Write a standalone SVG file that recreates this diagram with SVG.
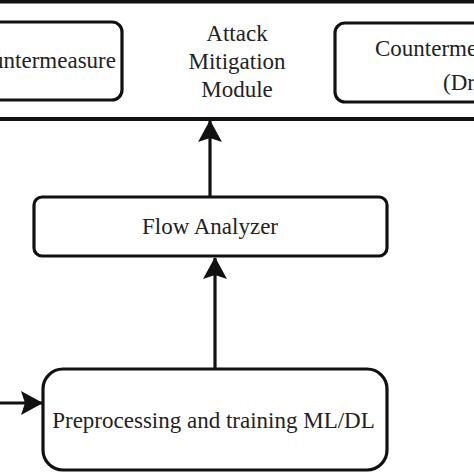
<svg xmlns="http://www.w3.org/2000/svg" width="474" height="474" viewBox="0 0 474 474">
<style>
.box{fill:#fff;stroke:#111;stroke-width:3.2}
.t{font-family:"Liberation Serif","Times New Roman",serif;font-size:23px;fill:#222}
.c{text-anchor:middle}
.conn{stroke:#111;stroke-width:3.2;fill:none}
</style>
<defs>
<marker id="ah" viewBox="0 0 22 24" refX="21" refY="12" markerWidth="22" markerHeight="24" markerUnits="userSpaceOnUse" orient="auto">
<path d="M0,0 L22,12 L0,24 L4,12 Z" fill="#111"/>
</marker>
</defs>
<rect width="474" height="474" fill="#fff"/>
<g id="attack-mitigation-module">
<rect class="box" x="-10" y="1.5" width="494" height="117.5" style="stroke-width:4"/>
<text class="t c" x="237" y="41">Attack</text>
<text class="t c" x="237" y="69">Mitigation</text>
<text class="t c" x="237" y="97">Module</text>
</g>
<g id="countermeasure-left">
<rect class="box" x="-20" y="22" width="142" height="78" rx="10"/>
<text class="t" x="116" y="68" text-anchor="end">Countermeasure</text>
</g>
<g id="countermeasure-right">
<rect class="box" x="335" y="23" width="160" height="79" rx="10"/>
<text class="t" x="375" y="56">Countermeasure</text>
<text class="t" x="443" y="90">(Drop)</text>
</g>
<g id="flow-analyzer">
<rect class="box" x="34" y="197" width="353" height="59" rx="8"/>
<text class="t c" x="210" y="234">Flow Analyzer</text>
</g>
<g id="preprocessing">
<rect class="box" x="43" y="369" width="344" height="101" rx="20"/>
<text class="t c" x="213.5" y="428">Preprocessing and training ML/DL</text>
</g>
<g id="connectors">
<line class="conn" x1="210" y1="197" x2="210" y2="121" marker-end="url(#ah)"/>
<line class="conn" x1="215" y1="368" x2="215" y2="258" marker-end="url(#ah)"/>
<line class="conn" x1="-5" y1="403" x2="42" y2="403" marker-end="url(#ah)"/>
</g>
</svg>
